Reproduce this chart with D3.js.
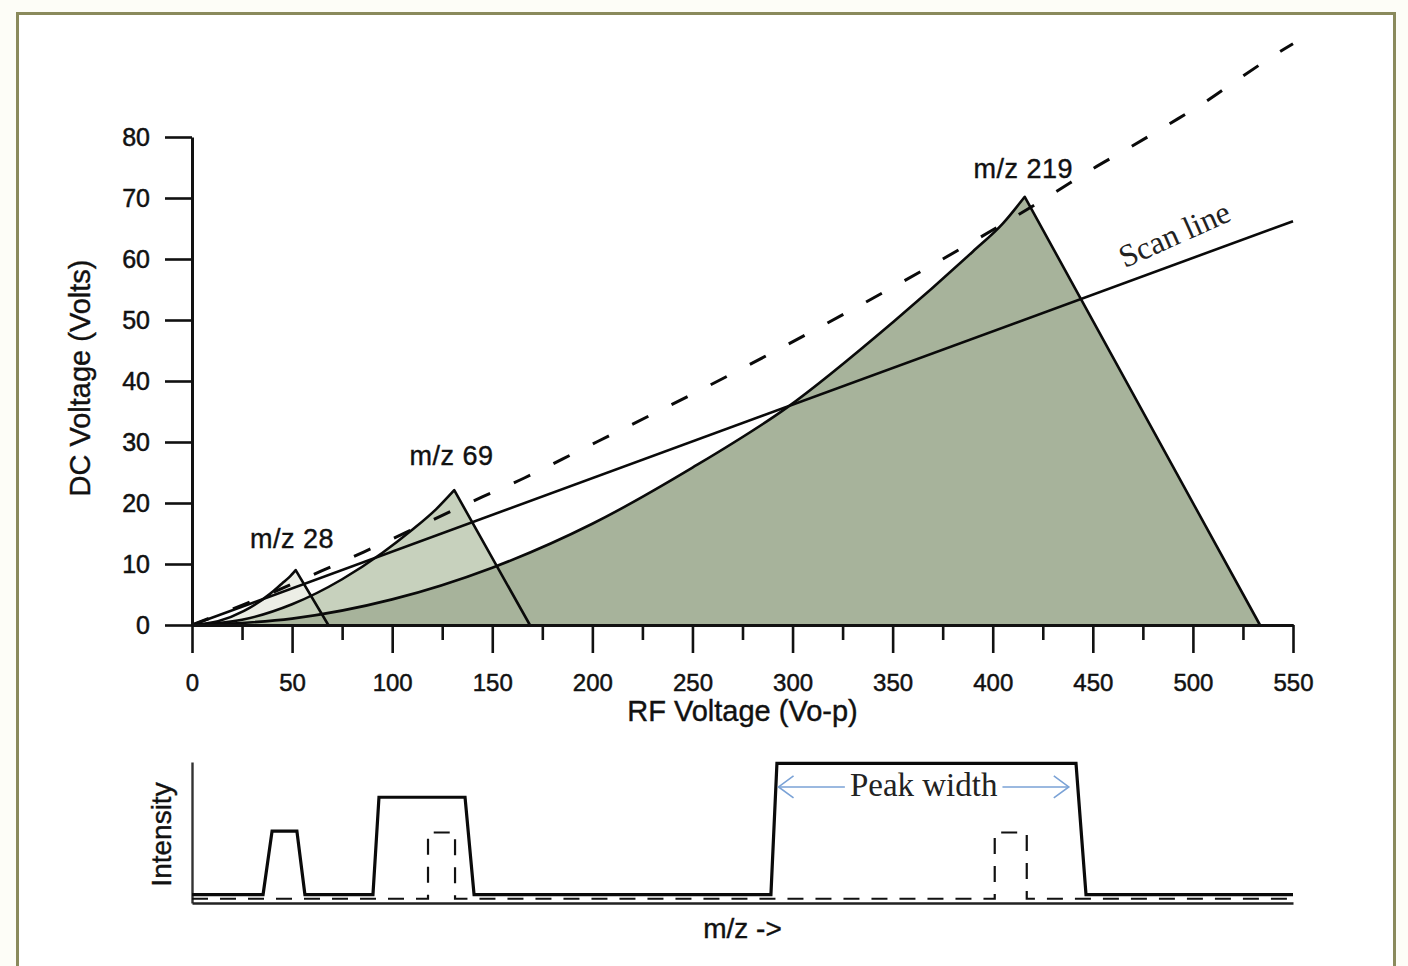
<!DOCTYPE html>
<html>
<head>
<meta charset="utf-8">
<script src="https://cdn.jsdelivr.net/npm/d3@7"></script>
<style>
  html, body { margin: 0; padding: 0; background: #fdfdf7; }
  svg { display: block; }
</style>
</head>
<body>
<svg id="grafico" width="1408" height="966"></svg>
<script>
const ancho = 1408;
const alto = 966;

// ticks del diagrama de estabilidad
const ticksRF = [0, 50, 100, 150, 200, 250, 300, 350, 400, 450, 500, 550];
const ticksRFMenores = [25, 75, 125, 175, 225, 275, 325, 375, 425, 475, 525];
const ticksDC = [0, 10, 20, 30, 40, 50, 60, 70, 80];

// borde izquierdo (curvo) de cada region, [RF, DC], termina en el vertice
const izq28 = [[0, 0], [13, 0.6], [26, 2.3], [39, 5.1], [45, 6.8], [48.5, 7.8], [51.8, 9.0]];
const izq69 = [[0, 0], [25, 0.85], [50, 3.4], [75, 7.5], [95, 11.8], [110, 15.6], [122, 19.0], [131, 22.1]];
const izq219 = [[0, 0], [50, 1.05], [100, 4.2], [150, 9.4], [200, 16.6], [250, 25.8], [297, 35.6], [350, 49.6], [390, 61.2], [405, 65.8], [416, 70.2]];
// corte del borde derecho con el eje RF
const base28 = 68.1;
const base69 = 168.8;
const base219 = 533.5;

const lineaScan = [[0, 0], [550, 66.2]];
const lineaPunteada = [[0, 0], [27, 3.5], [65, 8.9], [86, 12.0], [145, 21.0], [166, 24.1], [185, 27.2], [278, 42.6], [297, 45.9], [431, 70.9], [450, 74.8], [468, 78.2], [488, 82.1], [506, 85.7], [525, 90.0], [545, 94.3], [550, 95.3]];

// espectro inferior, [m/z, intensidad]
const trazoAncho = [[0, 0.06], [35.5, 0.06], [40, 0.51], [52.4, 0.51], [56.4, 0.06], [90.4, 0.06], [93.4, 0.75], [136.4, 0.75], [140.9, 0.06], [289.2, 0.06], [292.2, 0.99], [441.6, 0.99], [446.6, 0.06], [550, 0.06]];
const trazoAngosto = [[0, 0.03], [117.9, 0.03], [117.9, 0.5], [131.4, 0.5], [131.4, 0.03], [401, 0.03], [401, 0.5], [417, 0.5], [417, 0.03], [550, 0.03]];
const anchoPico = [293, 438];

const SANS = "'Liberation Sans', Arial, sans-serif";
const SERIF = "'Liberation Serif', 'Times New Roman', serif";

const svg = d3.select("#grafico").attr("viewBox", `0 0 ${ancho} ${alto}`);

svg.append("rect")
  .attr("x", 17.5).attr("y", 13.5)
  .attr("width", 1377).attr("height", 1000)
  .attr("fill", "#ffffff")
  .attr("stroke", "#8a8a5c")
  .attr("stroke-width", 3);

const x = d3.scaleLinear().domain([0, 550]).range([192, 1293]);
const y = d3.scaleLinear().domain([0, 80]).range([625, 137]);

const linea = d3.line().x(d => x(d[0])).y(d => y(d[1]));
const lineaSuave = d3.line().x(d => x(d[0])).y(d => y(d[1])).curve(d3.curveMonotoneX);

function borde(izq, base) {
  return lineaSuave(izq) + `L${x(base)},${y(0)}`;
}

const regiones = [
  { izq: izq28, base: base28, color: "#eceee6" },
  { izq: izq69, base: base69, color: "#c7d1bd" },
  { izq: izq219, base: base219, color: "#a7b39b" }
];

const gRegiones = svg.append("g");
gRegiones.selectAll("path.relleno").data(regiones).join("path")
  .attr("class", "relleno")
  .attr("d", d => borde(d.izq, d.base) + "Z")
  .attr("fill", d => d.color)
  .attr("stroke", "none");

gRegiones.selectAll("path.contorno").data(regiones).join("path")
  .attr("class", "contorno")
  .attr("d", d => borde(d.izq, d.base))
  .attr("fill", "none")
  .attr("stroke", "#0a0a0a")
  .attr("stroke-width", 2.6)
  .attr("stroke-linejoin", "round");

svg.append("path")
  .datum(lineaScan)
  .attr("d", linea)
  .attr("fill", "none")
  .attr("stroke", "#0a0a0a")
  .attr("stroke-width", 2.6);

svg.append("path")
  .datum(lineaPunteada)
  .attr("d", lineaSuave)
  .attr("fill", "none")
  .attr("stroke", "#0a0a0a")
  .attr("stroke-width", 3)
  .attr("stroke-dasharray", "18 26");

// ejes
function estiloEje(g, ancho) {
  g.select(".domain").attr("stroke", "#111").attr("stroke-width", ancho);
  g.selectAll(".tick line").attr("stroke", "#111").attr("stroke-width", 2.6);
  g.selectAll(".tick text")
    .attr("fill", "#111")
    .attr("stroke", "#111")
    .attr("stroke-width", 0.5)
    .style("font-family", SANS)
    .style("font-size", "24px");
}

svg.append("g")
  .attr("transform", `translate(0,${y(0)})`)
  .call(d3.axisBottom(x).tickValues(ticksRFMenores).tickSize(15).tickSizeOuter(0).tickFormat(""))
  .call(g => estiloEje(g, 3));

svg.append("g")
  .attr("transform", `translate(0,${y(0)})`)
  .call(d3.axisBottom(x).tickValues(ticksRF).tickSize(28).tickSizeOuter(0).tickPadding(21).tickFormat(d3.format("d")))
  .call(g => estiloEje(g, 3));

svg.append("g")
  .attr("transform", `translate(${x(0)},0)`)
  .call(d3.axisLeft(y).tickValues(ticksDC).tickSize(27).tickSizeOuter(0).tickPadding(15).tickFormat(d3.format("d")))
  .call(g => estiloEje(g, 3))
  .call(g => g.selectAll(".tick text").style("font-size", "25px"));

function titulo(sel, tam) {
  sel.attr("fill", "#111")
    .attr("stroke", "#111")
    .attr("stroke-width", 0.4)
    .style("font-family", SANS)
    .style("font-size", tam);
}

svg.append("text")
  .attr("transform", `translate(90,${(y(80) + y(0)) / 2 - 3}) rotate(-90)`)
  .attr("text-anchor", "middle")
  .call(titulo, "29px")
  .text("DC Voltage (Volts)");

svg.append("text")
  .attr("x", (x(0) + x(550)) / 2)
  .attr("y", 721)
  .attr("text-anchor", "middle")
  .call(titulo, "29px")
  .text("RF Voltage (Vo-p)");

// etiquetas de cada region
const etiquetas = [
  { texto: "m/z 28", rf: 50, dc: 12.6 },
  { texto: "m/z 69", rf: 129.6, dc: 26.2 },
  { texto: "m/z 219", rf: 415.3, dc: 73.3 }
];

svg.selectAll("text.masa").data(etiquetas).join("text")
  .attr("class", "masa")
  .attr("x", d => x(d.rf))
  .attr("y", d => y(d.dc))
  .attr("text-anchor", "middle")
  .call(titulo, "27px")
  .style("letter-spacing", "0.5px")
  .text(d => d.texto);

svg.append("text")
  .attr("transform", `translate(${x(466)},${y(58.5)}) rotate(-24)`)
  .attr("fill", "#222")
  .style("font-family", SERIF)
  .style("font-size", "32px")
  .text("Scan line");

// espectro de intensidad
const xMz = d3.scaleLinear().domain([0, 550]).range([192, 1293]);
const yInt = d3.scaleLinear().domain([0, 1]).range([903, 762]);

svg.append("g")
  .attr("transform", `translate(${xMz(0)},0)`)
  .call(d3.axisLeft(yInt).tickValues([]).tickSizeOuter(0))
  .call(g => g.select(".domain").attr("stroke", "#333").attr("stroke-width", 2.4));

svg.append("g")
  .attr("transform", `translate(0,${yInt(0)})`)
  .call(d3.axisBottom(xMz).tickValues([]).tickSizeOuter(0))
  .call(g => g.select(".domain").attr("stroke", "#222").attr("stroke-width", 2.6));

const lineaInt = d3.line().x(d => xMz(d[0])).y(d => yInt(d[1]));

svg.append("path")
  .datum(trazoAngosto)
  .attr("d", lineaInt)
  .attr("fill", "none")
  .attr("stroke", "#111")
  .attr("stroke-width", 2.2)
  .attr("stroke-dasharray", "16 12");

svg.append("path")
  .datum(trazoAncho)
  .attr("d", lineaInt)
  .attr("fill", "none")
  .attr("stroke", "#0a0a0a")
  .attr("stroke-width", 3.2)
  .attr("stroke-linejoin", "miter");

svg.append("text")
  .attr("transform", `translate(171,${(yInt(0) + yInt(1)) / 2 + 2}) rotate(-90)`)
  .attr("text-anchor", "middle")
  .call(titulo, "28px")
  .text("Intensity");

svg.append("text")
  .attr("x", (xMz(0) + xMz(550)) / 2)
  .attr("y", 938)
  .attr("text-anchor", "middle")
  .call(titulo, "28px")
  .text("m/z ->");

// flecha "Peak width"
const azul = "#7aa2d6";
const yFlecha = yInt(0.823);
const xa = xMz(anchoPico[0]);
const xb = xMz(anchoPico[1]);
const gFlecha = svg.append("g");
const rotulo = gFlecha.append("text")
  .attr("x", (xa + xb) / 2)
  .attr("y", yInt(0.76))
  .attr("text-anchor", "middle")
  .attr("fill", "#222")
  .style("font-family", SERIF)
  .style("font-size", "33px")
  .text("Peak width");
const mitad = rotulo.node().getComputedTextLength() / 2 + 5;
const xc = (xa + xb) / 2;

gFlecha.selectAll("line").data([[xa, xc - mitad], [xc + mitad, xb]]).join("line")
  .attr("x1", d => d[0]).attr("x2", d => d[1])
  .attr("y1", yFlecha).attr("y2", yFlecha)
  .attr("stroke", azul)
  .attr("stroke-width", 1.6);

gFlecha.selectAll("path").data([[xa, 1], [xb, -1]]).join("path")
  .attr("d", d => `M${d[0] + d[1] * 15},${yFlecha - 11}L${d[0]},${yFlecha}L${d[0] + d[1] * 15},${yFlecha + 11}`)
  .attr("fill", "none")
  .attr("stroke", azul)
  .attr("stroke-width", 1.6);
</script>
</body>
</html>
